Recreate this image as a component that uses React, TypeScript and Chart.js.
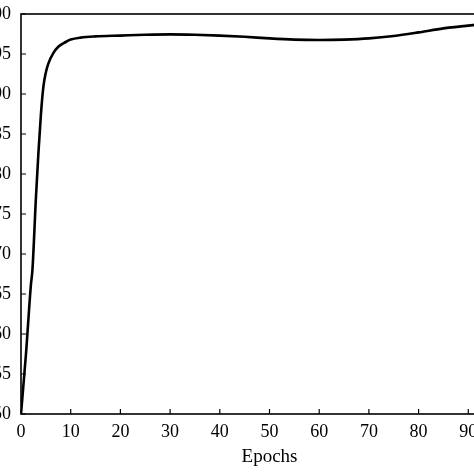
import { useEffect, useRef } from 'react';
import { Chart, registerables } from 'chart.js';

Chart.register(...registerables);

const epochs = [0, 1, 2, 2.3, 3, 3.5, 4, 4.5, 5, 5.5, 6.5, 7.5, 9, 10, 12, 15, 20, 25, 30, 35, 40, 45, 50, 55, 60, 65, 70, 75, 80, 85, 90, 95, 100];
const accuracy = [0.5, 0.575, 0.662, 0.68, 0.77, 0.826, 0.874, 0.909, 0.927, 0.938, 0.951, 0.959, 0.965, 0.968, 0.9705, 0.972, 0.973, 0.974, 0.9745, 0.974, 0.973, 0.9715, 0.9695, 0.968, 0.9675, 0.968, 0.9695, 0.9725, 0.977, 0.982, 0.9855, 0.988, 0.989];

const xMin = 0;
const xMax = 100;
const yMin = 0.5;
const yMax = 1.0;

const FONT = '"Liberation Serif", "Times New Roman", serif';

// box around the plot + inward tick marks
const framePlugin = {
  id: 'frame',
  afterDraw(chart: Chart) {
    const { ctx, chartArea } = chart;
    const x = chart.scales.x;
    const y = chart.scales.y;
    ctx.save();
    ctx.strokeStyle = '#000';
    ctx.lineWidth = 1.6;
    ctx.strokeRect(chartArea.left, chartArea.top, chartArea.right - chartArea.left, chartArea.bottom - chartArea.top);
    ctx.lineWidth = 1.2;
    ctx.beginPath();
    x.ticks.forEach(t => {
      const px = x.getPixelForValue(t.value);
      ctx.moveTo(px, chartArea.bottom);
      ctx.lineTo(px, chartArea.bottom - 5);
    });
    y.ticks.forEach(t => {
      const py = y.getPixelForValue(t.value);
      ctx.moveTo(chartArea.left, py);
      ctx.lineTo(chartArea.left + 5, py);
    });
    ctx.stroke();
    ctx.restore();
  },
};

export default function App() {
  const chartRef = useRef<HTMLCanvasElement>(null);
  const chartInstance = useRef<Chart | null>(null);

  useEffect(() => {
    if (!chartRef.current) return;
    if (chartInstance.current) chartInstance.current.destroy();

    const ctx = chartRef.current.getContext('2d');
    if (!ctx) return;

    chartInstance.current = new Chart(ctx, {
      type: 'line',
      data: {
        datasets: [
          {
            label: 'Accuracy',
            data: epochs.map((e, i) => ({ x: e, y: accuracy[i] })),
            borderColor: '#000',
            borderWidth: 2.6,
            pointRadius: 0,
            cubicInterpolationMode: 'monotone',
            fill: false,
          },
        ],
      },
      options: {
        responsive: false,
        animation: false,
        layout: { padding: { top: 14, right: 23, bottom: 0, left: 0 } },
        plugins: {
          legend: { display: false },
          tooltip: { enabled: false },
        },
        scales: {
          x: {
            type: 'linear',
            min: xMin,
            max: xMax,
            grid: { display: false, drawTicks: false },
            border: { display: false },
            ticks: {
              stepSize: 10,
              padding: 7,
              maxRotation: 0,
              color: '#000',
              font: { family: FONT, size: 18 },
            },
            title: {
              display: true,
              text: 'Epochs',
              color: '#000',
              font: { family: FONT, size: 19 },
              padding: { top: 0, bottom: 6 },
            },
            afterFit: (scale: any) => {
              scale.height = 60;
              scale.paddingLeft = 0;
              scale.paddingRight = 0;
            },
          },
          y: {
            min: yMin,
            max: yMax,
            grid: { display: false, drawTicks: false },
            border: { display: false },
            ticks: {
              stepSize: 0.05,
              padding: 10,
              color: '#000',
              font: { family: FONT, size: 18 },
              callback: (v: any) => Number(v).toFixed(2),
            },
            afterFit: (scale: any) => {
              scale.width = 60;
              scale.paddingTop = 0;
              scale.paddingBottom = 0;
            },
          },
        },
      },
      plugins: [framePlugin],
    });

    return () => {
      if (chartInstance.current) {
        chartInstance.current.destroy();
        chartInstance.current = null;
      }
    };
  }, []);

  return (
    <div style={{ position: 'fixed', left: 0, top: 0, width: 474, height: 474, overflow: 'hidden', background: '#fff' }}>
      <div style={{ position: 'absolute', left: -39, top: 0 }}>
        <canvas ref={chartRef} width={580} height={474} style={{ width: 580, height: 474 }}></canvas>
      </div>
    </div>
  );
}
